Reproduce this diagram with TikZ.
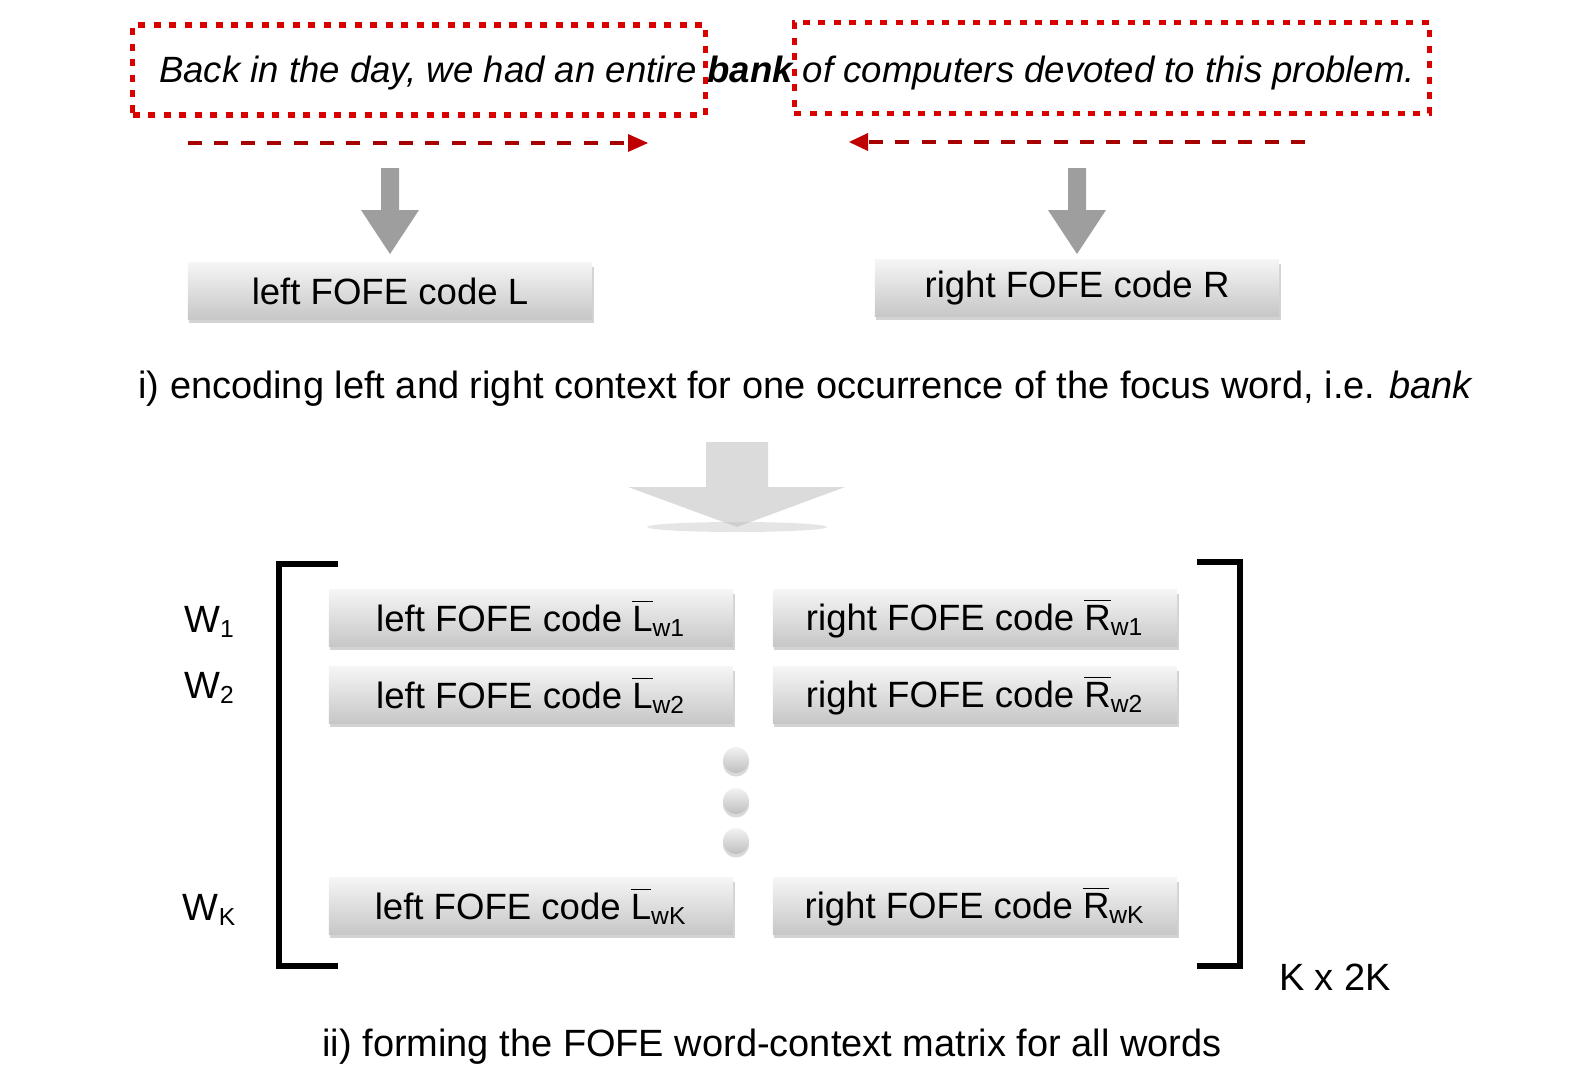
\documentclass[tikz,border=0pt]{standalone}
\usepackage{fontspec}
\setmainfont{Liberation Sans}
\usetikzlibrary{shadows}
\begin{document}
\begin{tikzpicture}[x=0.01cm,y=-0.01cm,
  codebox/.style={draw=none,top color=white!96!black,bottom color=black!22,inner sep=0pt,
    drop shadow={shadow xshift=0.4pt,shadow yshift=-1.2pt,opacity=0.35},font=\fontsize{10.4}{12}\selectfont},
  redbox/.style={draw=red!85!black,line width=1.5pt,dash pattern=on 2pt off 2.4pt},
  redarr/.style={draw=red!65!black,line width=1.1pt,dash pattern=on 4pt off 3.5pt},
  grayarr/.style={fill=black!38,draw=none},
  lbl/.style={font=\fontsize{10.8}{13}\selectfont}]
\useasboundingbox (0,0) rectangle (1578,1072);
\def\cb#1#2#3#4{\node[codebox,minimum width=4.04cm,minimum height=0.56cm] (#1) at (#2,#3) {#4};}
% sentence
\node[redbox,minimum width=5.72cm,minimum height=0.9cm] (lb) at (419,70) {};
\node[redbox,minimum width=6.35cm,minimum height=0.91cm] (rb) at (1112,68) {};
\node[font=\fontsize{10.4}{12}\selectfont\itshape,anchor=base] (sent) at (787,82) {Back in the day, we had an entire \textbf{bank} of computers devoted to this problem.};
\coordinate (a1) at (188,143); \coordinate (a2) at (632,143);
\coordinate (b1) at (1305,142); \coordinate (b2) at (866,142);
\draw[redarr] (a1) -- (a2);
\fill[red!75!black] (628,134) -- (648,143) -- (628,152) -- cycle;
\draw[redarr] (b1) -- (b2);
\fill[red!75!black] (868,133) -- (849,142) -- (868,151) -- cycle;
% gray arrows
\fill[grayarr] (381,168) -- (399,168) -- (399,210) -- (419,210) -- (390,254) -- (361,210) -- (381,210) -- cycle;
\fill[grayarr] (1068,168) -- (1086,168) -- (1086,210) -- (1106,210) -- (1077,254) -- (1048,210) -- (1068,210) -- cycle;
\cb{L}{390}{291}{left FOFE code L}
\cb{R}{1077}{288}{right FOFE code R}
\node[lbl,anchor=base] (cap1) at (806,398) {i) encoding left and right context for one occurrence of the focus word, i.e. \textit{bank}};
% big arrow
\fill[black!14] (706,442) -- (768,442) -- (768,487) -- (845,487) -- (737,527) -- (628,487) -- (706,487) -- cycle;
\fill[black!25,opacity=0.4] (737,527) ellipse (90 and 5);
% brackets
\draw[line width=1.8pt] (338,564) -- (279,564) -- (279,966) -- (338,966);
\draw[line width=1.8pt] (1197,562) -- (1240,562) -- (1240,966) -- (1197,966);
% rows
\newcommand\ovl[1]{\ensuremath{\overline{\mbox{#1}}}}
\cb{L1}{531}{618}{left FOFE code \ovl{L}$_{\mbox{\scriptsize w1}}$}
\cb{R1}{975}{618}{right FOFE code \ovl{R}$_{\mbox{\scriptsize w1}}$}
\cb{L2}{531}{695}{left FOFE code \ovl{L}$_{\mbox{\scriptsize w2}}$}
\cb{R2}{975}{695}{right FOFE code \ovl{R}$_{\mbox{\scriptsize w2}}$}
\cb{LK}{531}{906}{left FOFE code \ovl{L}$_{\mbox{\scriptsize wK}}$}
\cb{RK}{975}{906}{right FOFE code \ovl{R}$_{\mbox{\scriptsize wK}}$}
\foreach \yy/\nm in {760/d1,801/d2,841/d3}
  \node[circle,minimum size=0.26cm,inner sep=0pt,top color=white!95!black,bottom color=black!25,drop shadow={opacity=0.3,shadow xshift=0pt,shadow yshift=-1pt}] (\nm) at (736,\yy) {};
\node[lbl] (w1) at (210,622) {W$_{\mbox{\scriptsize 1}}$};
\node[lbl] (w2) at (210,688) {W$_{\mbox{\scriptsize 2}}$};
\node[lbl] (wk) at (210,910) {W$_{\mbox{\scriptsize K}}$};
\node[lbl] (kk) at (1335,977) {K x 2K};
\node[lbl,anchor=base] (cap2) at (772,1056) {ii) forming the FOFE word-context matrix for all words};
\end{tikzpicture}
\end{document}
